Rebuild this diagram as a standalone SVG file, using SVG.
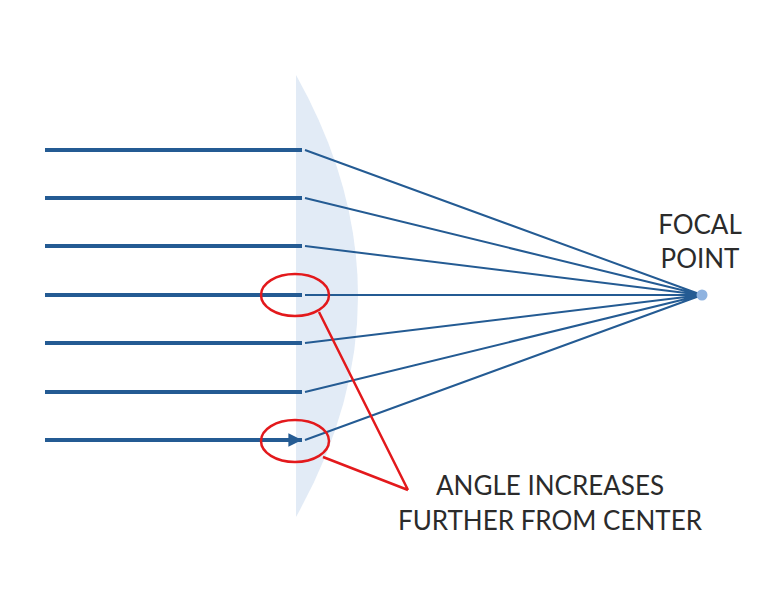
<svg xmlns="http://www.w3.org/2000/svg" width="768" height="591" viewBox="0 0 768 591">
<style>
.in{stroke:#245b93;stroke-width:4;fill:none}
.out{stroke:#245b93;stroke-width:2;fill:none}
.red{stroke:#e3191c;stroke-width:2.5;fill:none}
text{font-family:Lato,"Liberation Sans",sans-serif;font-size:26px;fill:#2b2b2b}
</style>
<defs><marker id="ah" viewBox="0 0 10 10" refX="10" refY="5" markerWidth="3.4" markerHeight="3.4" orient="auto" markerUnits="strokeWidth"><path d="M0,0L10,5L0,10z" fill="#245b93"/></marker></defs>
<rect width="768" height="591" fill="#fff"/>
<g id="lens"><path d="M296,75 Q420,296 296,517 Z" fill="#e2ebf6"/></g>
<g id="connectors">
<path class="in" marker-end="url(#ah)" d="M45,150H302M45,198H302M45,246H302M45,295H302M45,343H302M45,392H302M45,440H302"/>
<path class="out" d="M305,150L702,295M305,198L702,295M305,246L702,295M305,295L702,295M305,343L702,295M305,392L702,295M305,440L702,295"/>
<path class="red" d="M319,312L408,490M323,457L408,490"/>
</g>
<g id="focal"><circle cx="702" cy="295" r="5.5" fill="#8fb3e0"/>
<text x="700" y="234" text-anchor="middle">FOCAL</text><text x="700" y="268" text-anchor="middle">POINT</text></g>
<g id="callouts">
<ellipse class="red" cx="295" cy="295" rx="34" ry="21"/>
<ellipse class="red" cx="295" cy="441" rx="34" ry="21"/>
<text x="550" y="495" text-anchor="middle">ANGLE INCREASES</text>
<text x="550" y="530" text-anchor="middle">FURTHER FROM CENTER</text>
</g>
</svg>
